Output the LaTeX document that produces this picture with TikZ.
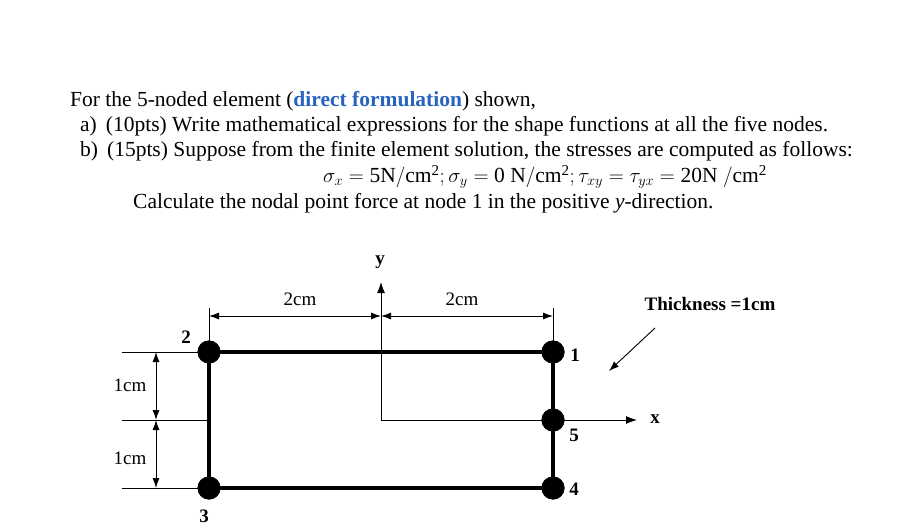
\documentclass[tikz,border=0pt]{standalone}
\usepackage{fontspec}
\setmainfont{Liberation Serif}
\begin{document}
\begin{tikzpicture}[x=1pt,y=-1pt,
  txt/.style={anchor=west,inner sep=0,font=\fontsize{21.5}{24}\selectfont},
  lab/.style={inner sep=0,font=\fontsize{19}{22}\selectfont},
  blab/.style={inner sep=0,font=\fontsize{19}{22}\selectfont\bfseries},
  dot/.style={circle,fill=black,minimum size=23pt,inner sep=0},
  edge/.style={line width=3.6pt},
  thin/.style={line width=0.9pt},
  dim/.style={line width=0.9pt,{Latex[length=10pt,width=7pt]}-{Latex[length=10pt,width=7pt]}}]
\usetikzlibrary{arrows.meta}
\useasboundingbox (0,0) rectangle (912,529);
\node[txt] (t1) at (70,101) {For the 5-noded element (\textcolor[RGB]{40,100,190}{\textbf{direct formulation}}) shown,};
\node[txt] (t2) at (80,126) {a)\hspace{9pt}(10pts) Write mathematical expressions for the shape functions at all the five nodes.};
\node[txt] (t3) at (80,151) {b)\hspace{9pt}(15pts) Suppose from the finite element solution, the stresses are computed as follows:};
\node[inner sep=0,font=\fontsize{21.5}{24}\selectfont] (t4) at (545,177) {$\sigma_x = \mathrm{5N/cm^2};\sigma_y = \mathrm{0\ N/cm^2};\tau_{xy} = \tau_{yx} = \mathrm{20N\ /cm^2}$};
\node[txt] (t5) at (133,203) {Calculate the nodal point force at node 1 in the positive \textit{y}-direction.};

\coordinate (O) at (381,420);
\coordinate (ytop) at (381,282);
\coordinate (xend) at (637,420);
\draw[thin,-{Latex[length=11pt,width=8pt]}] (O) -- (ytop);
\draw[thin,-{Latex[length=11pt,width=8pt]}] (O) -- (xend);
\node[blab] (ylab) at (380,262) {y};
\node[blab] (xlab) at (655,419) {x};

\node[dot] (n2) at (209,352) {};
\node[dot] (n1) at (553,352) {};
\node[dot] (n5) at (553,420) {};
\node[dot] (n3) at (209,488) {};
\node[dot] (n4) at (553,488) {};
\draw[edge] (n2.center) -- (n1.center) -- (n4.center) -- (n3.center) -- cycle;
\node[dot] at (n2) {};\node[dot] at (n1) {};\node[dot] at (n5) {};\node[dot] at (n3) {};\node[dot] at (n4) {};

\node[blab] (l2) at (186,337) {2};
\node[blab] (l1) at (575,355) {1};
\node[blab] (l5) at (574,435) {5};
\node[blab] (l4) at (574,489) {4};
\node[blab] (l3) at (204,516) {3};

\coordinate (e2) at (209,308);
\coordinate (e1) at (553,308);
\coordinate (ey) at (381,316);
\draw[thin] (n2.center) -- (e2);
\draw[thin] (n1.center) -- (e1);
\draw[dim] (209,316) -- (ey);
\draw[dim] (ey) -- (553,316);
\node[lab] (d1) at (300,299) {2cm};
\node[lab] (d2) at (462,299) {2cm};

\coordinate (h1) at (122,352);
\coordinate (h2) at (122,420);
\coordinate (h3) at (122,488);
\draw[thin] (h1) -- (n2.center);
\draw[thin] (h2) -- (209,420);
\draw[thin] (h3) -- (n3.center);
\draw[dim] (156,352) -- (156,420);
\draw[dim] (156,420) -- (156,488);
\node[lab] (c1) at (130,385) {1cm};
\node[lab] (c2) at (130,458) {1cm};

\node[blab] (th) at (710,304) {Thickness =1cm};
\coordinate (ta) at (655,328);
\coordinate (tb) at (609,371);
\draw[thin,-{Latex[length=10pt,width=7pt]}] (ta) -- (tb);
\end{tikzpicture}
\end{document}
